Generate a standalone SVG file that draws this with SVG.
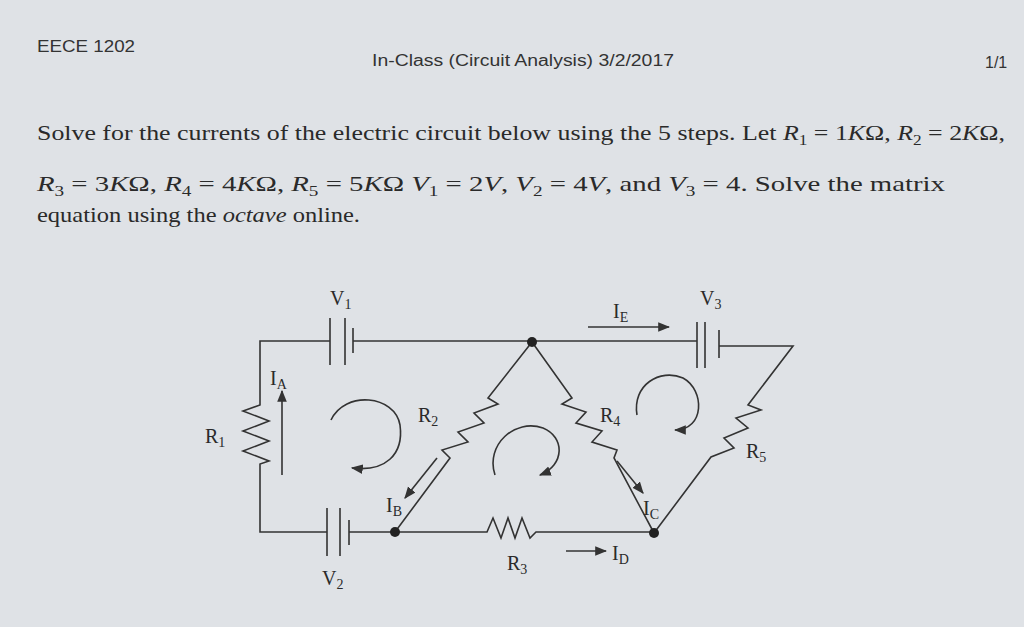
<svg xmlns="http://www.w3.org/2000/svg" width="1024" height="627" viewBox="0 0 1024 627">
<defs>
<style>
.w{fill:none;stroke:#333;stroke-width:1.6}
.t{font-family:'Liberation Serif','Times New Roman',serif;fill:#2a2a2a}
.h{font-family:'Liberation Sans',Arial,sans-serif;fill:#333;font-size:16px}
.b{font-size:21px}
.l{font-size:20px}
.s{font-size:14px}
</style>
<marker id="a" viewBox="0 0 10 10" refX="9" refY="5" markerWidth="12" markerHeight="12" orient="auto-start-reverse" markerUnits="userSpaceOnUse"><path d="M0,1 L10,5 L0,9 Z" fill="#333"/></marker>
</defs>
<rect width="1024" height="627" fill="#dfe2e6"/>
<text class="h" x="37" y="52" textLength="98" lengthAdjust="spacingAndGlyphs">EECE 1202</text>
<text class="h" x="372" y="66" textLength="302" lengthAdjust="spacingAndGlyphs">In-Class (Circuit Analysis) 3/2/2017</text>
<text class="h" x="985" y="68">1/1</text>
<g font-family="'Liberation Serif','Times New Roman',serif" fill="#2a2a2a">
<text class="b" x="37" y="140" textLength="968" lengthAdjust="spacingAndGlyphs">Solve for the currents of the electric circuit below using the 5 steps. Let <tspan font-style="italic">R</tspan><tspan class="s" dy="5">1</tspan><tspan dy="-5"> = 1<tspan font-style="italic">K</tspan>Ω, <tspan font-style="italic">R</tspan></tspan><tspan class="s" dy="5">2</tspan><tspan dy="-5"> = 2<tspan font-style="italic">K</tspan>Ω,</tspan></text>
<text class="b" x="37" y="191" textLength="908" lengthAdjust="spacingAndGlyphs"><tspan font-style="italic">R</tspan><tspan class="s" dy="5">3</tspan><tspan dy="-5"> = 3<tspan font-style="italic">K</tspan>Ω, <tspan font-style="italic">R</tspan></tspan><tspan class="s" dy="5">4</tspan><tspan dy="-5"> = 4<tspan font-style="italic">K</tspan>Ω, <tspan font-style="italic">R</tspan></tspan><tspan class="s" dy="5">5</tspan><tspan dy="-5"> = 5<tspan font-style="italic">K</tspan>Ω <tspan font-style="italic">V</tspan></tspan><tspan class="s" dy="5">1</tspan><tspan dy="-5"> = 2<tspan font-style="italic">V</tspan>, <tspan font-style="italic">V</tspan></tspan><tspan class="s" dy="5">2</tspan><tspan dy="-5"> = 4<tspan font-style="italic">V</tspan>, and <tspan font-style="italic">V</tspan></tspan><tspan class="s" dy="5">3</tspan><tspan dy="-5"> = 4. Solve the matrix</tspan></text>
<text class="b" x="37" y="222" textLength="323" lengthAdjust="spacingAndGlyphs">equation using the <tspan font-style="italic">octave</tspan> online.</text>
</g>
<g id="connectors">
<path class="w" d="M330,341 H260 V405 l-17,6 l26,10 l-26,10 l26,10 l-26,10 l26,10 l-9,3 V532 H327"/>
<path class="w" d="M353,341 H697"/>
<path class="w" d="M719,346 H793 L748,405 l13,5 l-25,8 l12,10 l-24,10 l10,10 l-23,9 L654,533"/>
<path class="w" d="M349,532 H487 l6,-14 l8,20 l7,-20 l7,20 l7,-20 l8,20 l6,-6 H654"/>
<path class="w" d="M532,342 L488,398 l10,6 l-24,9 l10,10 l-26,9 l10,10 l-26,8 l8,8 L395,532"/>
<path class="w" d="M532,342 L572,398 l-10,6 l24,8 l-10,11 l26,8 l-10,11 l25,8 l-3,8 L654,533"/>
<path class="w" d="M282,475 V391" marker-end="url(#a)"/>
<path class="w" d="M437,458 L405,498" marker-end="url(#a)"/>
<path class="w" d="M617,461 L643,493" marker-end="url(#a)"/>
<path class="w" d="M588,327 H669" marker-end="url(#a)"/>
<path class="w" d="M566,551 H606" marker-end="url(#a)"/>
<path class="w" d="M331,420 C345,390 395,395 400,425 C404,455 385,472 352,468" marker-end="url(#a)"/>
<path class="w" d="M495,475 C485,445 515,418 543,428 C565,437 565,465 540,475" marker-end="url(#a)"/>
<path class="w" d="M637,415 C632,385 660,368 683,378 C705,390 705,430 675,430" marker-end="url(#a)"/>
</g>
<g id="V1"><path class="w" d="M330,318 V365 M345,318 V365 M353,328 V353"/><text class="t l" x="330" y="305">V<tspan class="s" dy="4">1</tspan></text></g>
<g id="V2"><path class="w" d="M327,508 V556 M340,508 V556 M349,520 V545"/><text class="t l" x="322" y="585">V<tspan class="s" dy="4">2</tspan></text></g>
<g id="V3"><path class="w" d="M697,322 V368 M705,322 V368 M719,330 V358"/><text class="t l" x="700" y="305">V<tspan class="s" dy="4">3</tspan></text></g>
<g id="nodes">
<circle cx="532" cy="342" r="5" fill="#222"/>
<circle cx="395" cy="532" r="5" fill="#222"/>
<circle cx="654" cy="533" r="5" fill="#222"/>
</g>
<g id="labels">
<text class="t l" x="270" y="385">I<tspan class="s" dy="4">A</tspan></text>
<text class="t l" x="205" y="443">R<tspan class="s" dy="4">1</tspan></text>
<text class="t l" x="418" y="422">R<tspan class="s" dy="4">2</tspan></text>
<text class="t l" x="386" y="512">I<tspan class="s" dy="4">B</tspan></text>
<text class="t l" x="507" y="570">R<tspan class="s" dy="4">3</tspan></text>
<text class="t l" x="600" y="422">R<tspan class="s" dy="4">4</tspan></text>
<text class="t l" x="746" y="458">R<tspan class="s" dy="4">5</tspan></text>
<text class="t l" x="643" y="515">I<tspan class="s" dy="4">C</tspan></text>
<text class="t l" x="612" y="560">I<tspan class="s" dy="4">D</tspan></text>
<text class="t l" x="613" y="318">I<tspan class="s" dy="4">E</tspan></text>
</g>
</svg>
